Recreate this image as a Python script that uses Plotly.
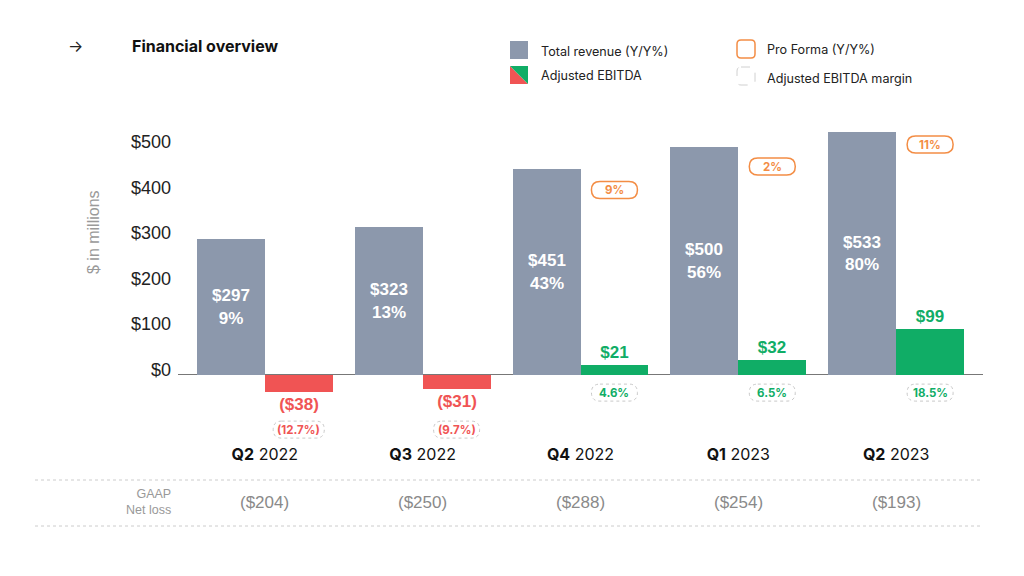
import plotly.graph_objects as go

# ---------------- data ----------------
quarters = ["Q2", "Q3", "Q4", "Q1", "Q2"]
years = ["2022", "2022", "2022", "2023", "2023"]
revenue = [297, 323, 451, 500, 533]
revenue_yoy = ["9%", "13%", "43%", "56%", "80%"]
ebitda = [-38, -31, 21, 32, 99]
ebitda_labels = ["($38)", "($31)", "$21", "$32", "$99"]
ebitda_margin = ["(12.7%)", "(9.7%)", "4.6%", "6.5%", "18.5%"]
pro_forma = [None, None, "9%", "2%", "11%"]
gaap_net_loss = ["($204)", "($250)", "($288)", "($254)", "($193)"]
y_ticks = [0, 100, 200, 300, 400, 500]
y_tick_labels = ["$0", "$100", "$200", "$300", "$400", "$500"]

# ---------------- style ----------------
GRAY = "#8c98ac"
RED = "#f05454"
GREEN = "#10ad66"
ORANGE = "#f38d45"
NUM_FONT = "Liberation Sans, Arial, sans-serif"
UI_FONT = "Inter, Noto Sans, sans-serif"
# page body has an 8px margin, so the figure is 8px smaller and shifted
W, H = 1016, 568
ML, MR, MT, MB = 170, 41, 93, 133
PW, PH = W - ML - MR, H - MT - MB
BW = 0.43


def px(x):  # screen pixel -> paper
    return (x - 8 - ML) / PW


def py(y):
    return (H - MB - (y - 8)) / PH


xs = list(range(len(revenue)))

fig = go.Figure()
fig.add_trace(go.Bar(
    x=xs, y=revenue, width=BW, offset=-BW,
    marker=dict(color=GRAY, line=dict(width=0)),
    text=[f"${v}<br>{p}" for v, p in zip(revenue, revenue_yoy)],
    textposition="inside", insidetextanchor="middle",
    textfont=dict(family=NUM_FONT, size=17, color="white", weight="bold"),
    hoverinfo="skip", showlegend=False,
))
fig.add_trace(go.Bar(
    x=xs, y=ebitda, width=BW, offset=0,
    marker=dict(color=[RED if v < 0 else GREEN for v in ebitda], line=dict(width=0)),
    text=ebitda_labels, textposition="outside",
    textfont=dict(family=NUM_FONT, size=17, weight="bold",
                  color=[RED if v < 0 else GREEN for v in ebitda]),
    cliponaxis=False, hoverinfo="skip", showlegend=False,
))


def pill_path(w, h, cy=0.0):
    r = h / 2
    l, rr, t, b = -w / 2, w / 2, cy + h / 2, cy - h / 2
    return (f"M{l + r},{t} L{rr - r},{t} Q{rr},{t} {rr},{cy} Q{rr},{b} {rr - r},{b} "
            f"L{l + r},{b} Q{l},{b} {l},{cy} Q{l},{t} {l + r},{t} Z")


shapes = []
annotations = []


def note(text, x, y, xref="paper", yref="paper", xanchor="center", size=12, color="#222",
         family=UI_FONT, **kw):
    annotations.append(dict(text=text, x=x, y=y, xref=xref, yref=yref, xanchor=xanchor,
                            yanchor="middle", showarrow=False,
                            font=dict(family=family, size=size, color=color), **kw))


# Adjusted EBITDA margin pills
for i, (m, v) in enumerate(zip(ebitda_margin, ebitda)):
    cy = -55 if v < 0 else -18
    w = max(46, 7.3 * len(m))
    col = RED if v < 0 else GREEN
    shapes.append(dict(type="path", xref="x", yref="y", xsizemode="pixel", ysizemode="pixel",
                       xanchor=i + BW / 2, yanchor=0, path=pill_path(w, 17, cy),
                       line=dict(color="#c8c8c8", width=1, dash="dot"), fillcolor="white"))
    note(f"<b>{m}</b>", i + BW / 2, 0, xref="x", yref="y", yshift=cy, size=11.5, color=col)

# Pro forma pills
pf_shift = [0, 0, -21, -20, -13]
for i, p in enumerate(pro_forma):
    if p is None:
        continue
    shapes.append(dict(type="path", xref="x", yref="y", xsizemode="pixel", ysizemode="pixel",
                       xanchor=i + BW / 2, yanchor=revenue[i], path=pill_path(46, 17, pf_shift[i]),
                       line=dict(color=ORANGE, width=1.5), fillcolor="white"))
    note(f"<b>{p}</b>", i + BW / 2, revenue[i], xref="x", yref="y", yshift=pf_shift[i],
         size=11.5, color=ORANGE)

# GAAP row
for yy in (480, 526):
    shapes.append(dict(type="line", xref="paper", yref="paper", x0=px(35), x1=px(983),
                       y0=py(yy), y1=py(yy), line=dict(color="#cccccc", width=1, dash="dot")))
for i, g in enumerate(gaap_net_loss):
    note(g, i, py(502), xref="x", size=17, color="#8a8a8a", family=NUM_FONT)
note("GAAP<br>Net loss", px(173), py(502), xanchor="right", align="right", size=12.5,
     color="#999999", family=NUM_FONT)

# Axis title
note("$ in millions", px(93), py(232), textangle=-90, size=16, color="#9a9a9a", family=NUM_FONT)

# Title
note("→", px(66), py(46), xanchor="left", size=16, color="#222")
note("<b>Financial overview</b>", px(130), py(46), xanchor="left", size=16, color="#111")


# Legend
def rect_paper(x0, y0, x1, y1):
    return dict(x0=px(x0), x1=px(x1), y0=py(y0), y1=py(y1))


shapes.append(dict(type="rect", xref="paper", yref="paper", **rect_paper(510, 41, 528, 59),
                   fillcolor=GRAY, line=dict(width=0)))
shapes.append(dict(type="path", xref="paper", yref="paper",
                   path=f"M{px(510)},{py(66)} L{px(510)},{py(84)} L{px(528)},{py(84)} Z",
                   fillcolor=RED, line=dict(width=0)))
shapes.append(dict(type="path", xref="paper", yref="paper",
                   path=f"M{px(510)},{py(66)} L{px(528)},{py(66)} L{px(528)},{py(84)} Z",
                   fillcolor=GREEN, line=dict(width=0)))


def rounded_sq(x0, y0, x1, y1, r):
    X0, X1, Y0, Y1 = px(x0), px(x1), py(y0), py(y1)
    rx, ry = r / PW, r / PH
    return (f"M{X0 + rx},{Y0} L{X1 - rx},{Y0} Q{X1},{Y0} {X1},{Y0 - ry} L{X1},{Y1 + ry} "
            f"Q{X1},{Y1} {X1 - rx},{Y1} L{X0 + rx},{Y1} Q{X0},{Y1} {X0},{Y1 + ry} "
            f"L{X0},{Y0 - ry} Q{X0},{Y0} {X0 + rx},{Y0} Z")


shapes.append(dict(type="path", xref="paper", yref="paper", path=rounded_sq(737, 40, 755, 58, 4),
                   line=dict(color=ORANGE, width=1.5), fillcolor="white"))
shapes.append(dict(type="path", xref="paper", yref="paper", path=rounded_sq(737, 67, 755, 85, 4),
                   line=dict(color="#d0d0d0", width=1, dash="dash"), fillcolor="white"))

for tx, x, y in [("Total revenue (Y/Y%)", 539, 51), ("Adjusted EBITDA", 539, 76),
                 ("Pro Forma (Y/Y%)", 765, 50), ("Adjusted EBITDA margin", 765, 78)]:
    note(tx, px(x), py(y), xanchor="left", size=12.6, color="#222")

fig.update_layout(
    width=W, height=H, margin=dict(l=ML, r=MR, t=MT, b=MB),
    paper_bgcolor="white", plot_bgcolor="white",
    barmode="overlay", bargap=0,
    shapes=shapes, annotations=annotations,
    xaxis=dict(range=[-0.55, 4.55], tickvals=xs,
               ticktext=[f"<b>{q}</b> {y}" for q, y in zip(quarters, years)],
               tickfont=dict(family=UI_FONT, size=16, color="#111"),
               showgrid=False, zeroline=False, showline=False, ticks=""),
    yaxis=dict(range=[-150, 600], tickvals=y_ticks, ticktext=y_tick_labels,
               tickfont=dict(family=NUM_FONT, size=18, color="#222"),
               ticklabelshift=-5, ticklabelstandoff=6,
               showgrid=False, zeroline=True, zerolinecolor="#777", zerolinewidth=1,
               showline=False, ticks=""),
)

fig.write_html("out.html")
